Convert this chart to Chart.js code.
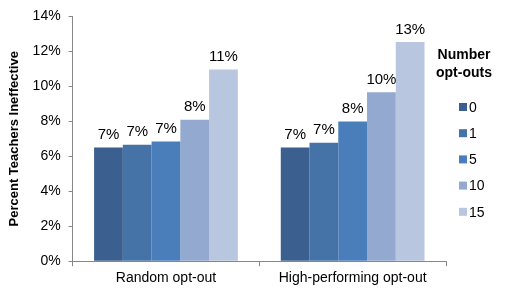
<!DOCTYPE html>
<html>
<head>
<meta charset="utf-8">
<script src="https://cdn.jsdelivr.net/npm/chart.js@4/dist/chart.umd.min.js"></script>
<style>
  html, body { margin: 0; padding: 0; background: #fff; }
  #wrap { width: 509px; height: 299px; position: relative; }
</style>
</head>
<body>
<div id="wrap"><canvas id="chartOptOut"></canvas></div>
<script>
// datos
const categorias = ['Random opt-out', 'High-performing opt-out'];
const numOptOuts = ['0', '1', '5', '10', '15'];
const serie0 = [6.5, 6.5];
const serie1 = [6.66, 6.78];
const serie5 = [6.84, 7.99];
const serie10 = [8.09, 9.66];
const serie15 = [10.96, 12.53];
const ticksY = [0, 2, 4, 6, 8, 10, 12, 14];

const colores = ['#3b5f8e', '#4572a7', '#4a7ebb', '#94a9cf', '#b9c6e0'];
const series = [serie0, serie1, serie5, serie10, serie15];
const fuente = "'Liberation Sans', Arial, sans-serif";
const gris = '#868686';

// etiquetas encima de las barras
const etiquetasBarras = {
    id: 'etiquetasBarras',
    afterDatasetsDraw(chart) {
        const ctx = chart.ctx;
        ctx.save();
        ctx.font = '15px ' + fuente;
        ctx.fillStyle = '#000';
        ctx.textAlign = 'center';
        ctx.textBaseline = 'bottom';
        chart.data.datasets.forEach((ds, i) => {
            chart.getDatasetMeta(i).data.forEach((bar, j) => {
                ctx.fillText(Math.round(ds.data[j]) + '%', bar.x, bar.y - 5);
            });
        });
        ctx.restore();
    }
};

// leyenda a la derecha con titulo
const leyendaDerecha = {
    id: 'leyendaDerecha',
    afterDraw(chart) {
        const ctx = chart.ctx;
        ctx.save();
        ctx.fillStyle = '#000';
        ctx.textAlign = 'center';
        ctx.textBaseline = 'middle';
        ctx.font = 'bold 14px ' + fuente;
        ctx.fillText('Number', 464, 55);
        ctx.fillText('opt-outs', 464, 73);
        ctx.font = '14px ' + fuente;
        ctx.textAlign = 'left';
        chart.data.datasets.forEach((ds, i) => {
            const y = 107 + i * 26.2;
            ctx.fillStyle = ds.backgroundColor;
            ctx.fillRect(459, y - 4, 8, 8);
            ctx.fillStyle = '#000';
            ctx.fillText(ds.label, 469, y + 1);
        });
        ctx.restore();
    }
};

new Chart(document.getElementById('chartOptOut'), {
    type: 'bar',
    data: {
        labels: categorias,
        datasets: series.map((s, i) => ({
            label: numOptOuts[i],
            data: s,
            backgroundColor: colores[i],
            borderWidth: 0,
            categoryPercentage: 0.77,
            barPercentage: 1.0
        }))
    },
    options: {
        responsive: true,
        maintainAspectRatio: false,
        animation: false,
        layout: { padding: { top: 12, right: 63, bottom: 8, left: 7 } },
        plugins: {
            legend: { display: false },
            tooltip: { enabled: false }
        },
        scales: {
            x: {
                grid: { display: true, offset: true, drawOnChartArea: false, tickLength: 5, color: gris },
                border: { color: gris },
                ticks: { color: '#000', font: { family: fuente, size: 14 }, padding: 4 }
            },
            y: {
                min: 0, max: 14,
                afterBuildTicks: axis => { axis.ticks = ticksY.map(v => ({ value: v })); },
                grid: { display: true, drawOnChartArea: false, tickLength: 4, color: gris },
                border: { color: gris },
                ticks: { color: '#000', font: { family: fuente, size: 14 }, padding: 8,
                         callback: v => v + '%' },
                title: { display: true, text: 'Percent Teachers Ineffective', color: '#000',
                         font: { family: fuente, size: 13, weight: 'bold' }, padding: { top: 0, bottom: 2 } }
            }
        }
    },
    plugins: [etiquetasBarras, leyendaDerecha]
});
</script>
</body>
</html>
